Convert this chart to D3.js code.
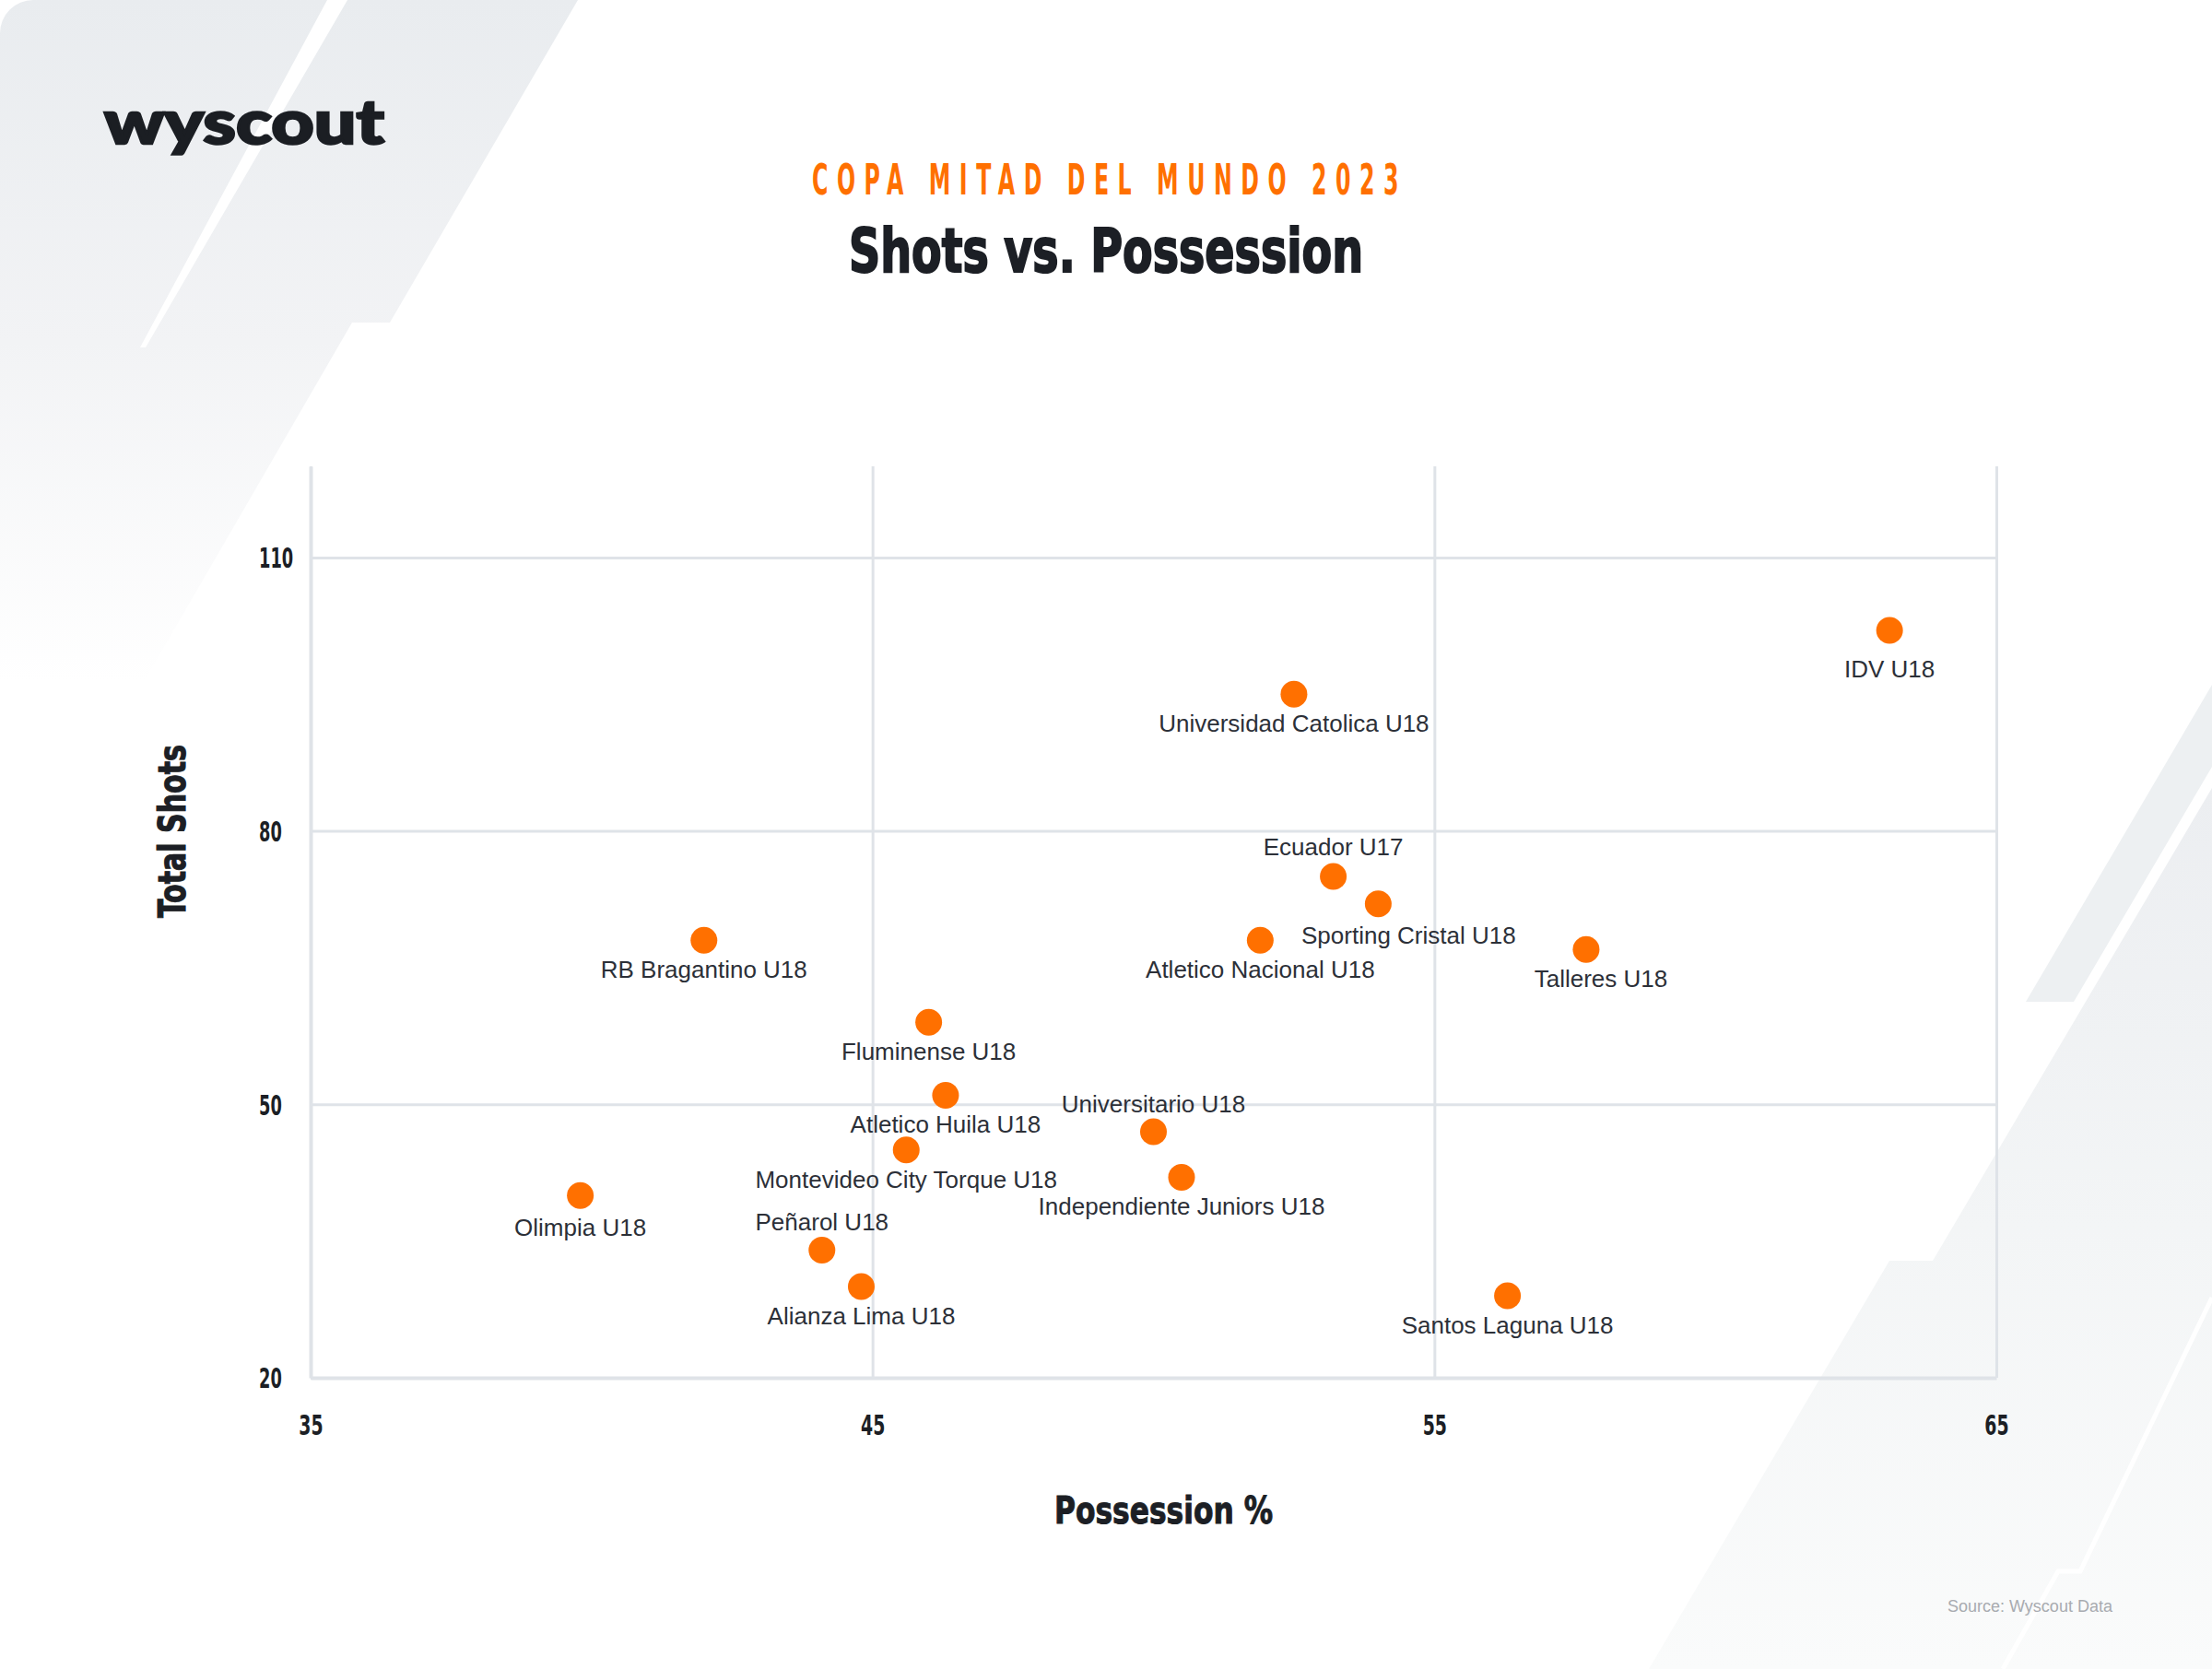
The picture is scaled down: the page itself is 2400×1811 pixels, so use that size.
<!DOCTYPE html>
<html>
<head>
<meta charset="utf-8">
<script src="https://cdn.jsdelivr.net/npm/d3@7"></script>
<style>
  html, body { margin: 0; padding: 0; background: #fff; }
  svg { display: block; }
</style>
</head>
<body>
<div id="chart"></div>
<script>
// values
var teams = ["IDV U18", "Universidad Catolica U18", "Ecuador U17", "Sporting Cristal U18",
             "Atletico Nacional U18", "Talleres U18", "RB Bragantino U18", "Fluminense U18",
             "Atletico Huila U18", "Universitario U18", "Montevideo City Torque U18",
             "Independiente Juniors U18", "Olimpia U18", "Peñarol U18", "Alianza Lima U18",
             "Santos Laguna U18"];
var possession = [63.1, 52.5, 53.2, 54.0, 51.9, 57.7, 42.0, 46.0, 46.3, 50.0, 45.6, 50.5, 39.8, 44.1, 44.8, 56.3];
var shots = [102, 95, 75, 72, 68, 67, 68, 59, 51, 47, 45, 42, 40, 34, 30, 29];
var xTicks = [35, 45, 55, 65];
var yTicks = [20, 50, 80, 110];

var WIDTH = 2400, HEIGHT = 1811;
var PLOT_L = 337, PLOT_R = 2166, PLOT_T = 506, PLOT_B = 1495;
var ORANGE = "#ff7000", INK = "#1c1f25", GRID = "#dfe3e8", LABEL_COL = "#2c3038";
var HEAD_FONT = "'DejaVu Sans Condensed', 'DejaVu Sans', sans-serif";
var LABEL_FONT = "'Liberation Sans', Arial, Helvetica, sans-serif";

// where each team label sits: [dx, baseline below the dot]; default below
var labelNudge = {
    "IDV U18": [0, 51],
    "Ecuador U17": [0, -23],
    "Sporting Cristal U18": [33, 43],
    "Talleres U18": [16, 41],
    "Universitario U18": [0, -21],
    "Peñarol U18": [0, -22],
    "Olimpia U18": [0, 44]
};

function squeeze(sel, f) {
    sel.each(function() {
        var w = this.getComputedTextLength();
        d3.select(this).attr("textLength", w * f).attr("lengthAdjust", "spacingAndGlyphs");
    });
}
function fitTo(sel, w) {
    sel.attr("textLength", w).attr("lengthAdjust", "spacingAndGlyphs");
}
function headText(sel, size) {
    return sel.style("font-family", HEAD_FONT)
        .style("font-stretch", "condensed")
        .style("font-weight", "bold")
        .style("font-size", size + "px");
}

var svg = d3.select("#chart").append("svg")
    .attr("width", WIDTH)
    .attr("height", HEIGHT);

// background shapes
var defs = svg.append("defs");
var gL = defs.append("linearGradient").attr("id", "gradL")
    .attr("gradientUnits", "userSpaceOnUse").attr("x1", 0).attr("y1", 0).attr("x2", 0).attr("y2", 740);
gL.append("stop").attr("offset", 0).attr("stop-color", "#e9ecef");
gL.append("stop").attr("offset", 0.5).attr("stop-color", "#f2f3f5");
gL.append("stop").attr("offset", 1).attr("stop-color", "#ffffff");
var gR = defs.append("linearGradient").attr("id", "gradR")
    .attr("gradientUnits", "userSpaceOnUse").attr("x1", 0).attr("y1", 855).attr("x2", 0).attr("y2", 1811);
gR.append("stop").attr("offset", 0).attr("stop-color", "#eceef1");
gR.append("stop").attr("offset", 0.5).attr("stop-color", "#f3f5f6");
gR.append("stop").attr("offset", 1).attr("stop-color", "#fafbfb");

var bg = svg.append("g");
bg.append("rect").attr("width", WIDTH).attr("height", HEIGHT).attr("fill", "#fff");
bg.append("path")
    .attr("d", "M0,36 A36,36 0 0 1 36,0 L627,0 L423,350 L382,350 L156,740 L0,740 Z")
    .attr("fill", "url(#gradL)");
bg.append("path").attr("d", "M355,0 L377,0 L158,377 L152,377 Z").attr("fill", "#fff");
bg.append("path").attr("d", "M287,532 L170,725").attr("stroke", "#fff").attr("stroke-width", 4);
bg.append("path").attr("d", "M2400,743 L2198,1087 L2250,1087 L2400,832 Z").attr("fill", "#edf0f2");
bg.append("path")
    .attr("d", "M2400,855 L2097,1368 L2050,1368 L1789,1811 L2400,1811 Z")
    .attr("fill", "url(#gradR)");
bg.append("path").attr("d", "M2400,1408 L2257,1705 L2233,1705 L2173,1811")
    .attr("fill", "none").attr("stroke", "#fff").attr("stroke-width", 5);

// logo + titles
svg.append("text")
    .attr("x", 113).attr("y", 156)
    .style("font-family", "Lato, 'Open Sans', sans-serif")
    .style("font-weight", 900)
    .style("font-size", "66px")
    .attr("fill", "#1b1e23").attr("stroke", "#1b1e23").attr("stroke-width", 2.5)
    .text("wyscout")
    .call(fitTo, 304);

headText(svg.append("text"), 47)
    .attr("x", 881).attr("y", 211)
    .style("letter-spacing", "17px")
    .attr("fill", ORANGE)
    .text("COPA MITAD DEL MUNDO 2023")
    .call(fitTo, 646);

headText(svg.append("text"), 66)
    .attr("x", 921).attr("y", 295)
    .attr("fill", INK).attr("stroke", INK).attr("stroke-width", 2)
    .text("Shots vs. Possession")
    .call(fitTo, 558);

// scales and axes
var x = d3.scaleLinear().domain([35, 65]).range([PLOT_L, PLOT_R]);
var y = d3.scaleLinear().domain([20, 120]).range([PLOT_B, PLOT_T]);

var gy = svg.append("g")
    .attr("transform", "translate(" + PLOT_L + ",0)")
    .call(d3.axisLeft(y).tickValues(yTicks).tickSizeInner(-(PLOT_R - PLOT_L)).tickSizeOuter(0));
gy.select(".domain").attr("stroke", GRID).attr("stroke-width", 4);
gy.selectAll(".tick line").attr("stroke", GRID).attr("stroke-width", 3);
headText(gy.selectAll(".tick text"), 30)
    .attr("x", -56).attr("dy", "0.36em")
    .attr("text-anchor", "start")
    .attr("fill", INK)
    .call(squeeze, 0.66);

var gx = svg.append("g")
    .attr("transform", "translate(0," + PLOT_B + ")")
    .call(d3.axisBottom(x).tickValues(xTicks).tickSizeInner(-(PLOT_B - PLOT_T)).tickSizeOuter(0));
gx.select(".domain").attr("stroke", GRID).attr("stroke-width", 4);
gx.selectAll(".tick line").attr("stroke", GRID).attr("stroke-width", 3);
headText(gx.selectAll(".tick text"), 30)
    .attr("y", 62).attr("dy", null)
    .attr("fill", INK)
    .call(squeeze, 0.7);

// axis titles
headText(svg.append("text"), 41)
    .attr("x", 1144).attr("y", 1653)
    .attr("fill", INK).attr("stroke", INK).attr("stroke-width", 1)
    .text("Possession %")
    .call(fitTo, 237);

headText(svg.append("text"), 40)
    .attr("transform", "translate(201,996) rotate(-90)")
    .attr("fill", INK).attr("stroke", INK).attr("stroke-width", 1)
    .text("Total Shots")
    .call(fitTo, 188);

// points
var data = teams.map(function(t, i) {
    return { team: t, poss: possession[i], shots: shots[i] };
});

var pts = svg.append("g");
pts.selectAll("circle")
    .data(data)
    .enter()
    .append("circle")
    .attr("cx", function(d) { return x(d.poss); })
    .attr("cy", function(d) { return y(d.shots); })
    .attr("r", 14.5)
    .attr("fill", ORANGE);

pts.selectAll("text")
    .data(data)
    .enter()
    .append("text")
    .attr("x", function(d) { return x(d.poss) + (labelNudge[d.team] ? labelNudge[d.team][0] : 0); })
    .attr("y", function(d) { return y(d.shots) + (labelNudge[d.team] ? labelNudge[d.team][1] : 41); })
    .attr("text-anchor", "middle")
    .style("font-family", LABEL_FONT)
    .style("font-size", "26px")
    .attr("fill", LABEL_COL)
    .text(function(d) { return d.team; });

// source
svg.append("text")
    .attr("x", 2113).attr("y", 1749)
    .style("font-family", LABEL_FONT)
    .style("font-size", "18px")
    .attr("fill", "#a8abb0")
    .text("Source: Wyscout Data");
</script>
</body>
</html>
